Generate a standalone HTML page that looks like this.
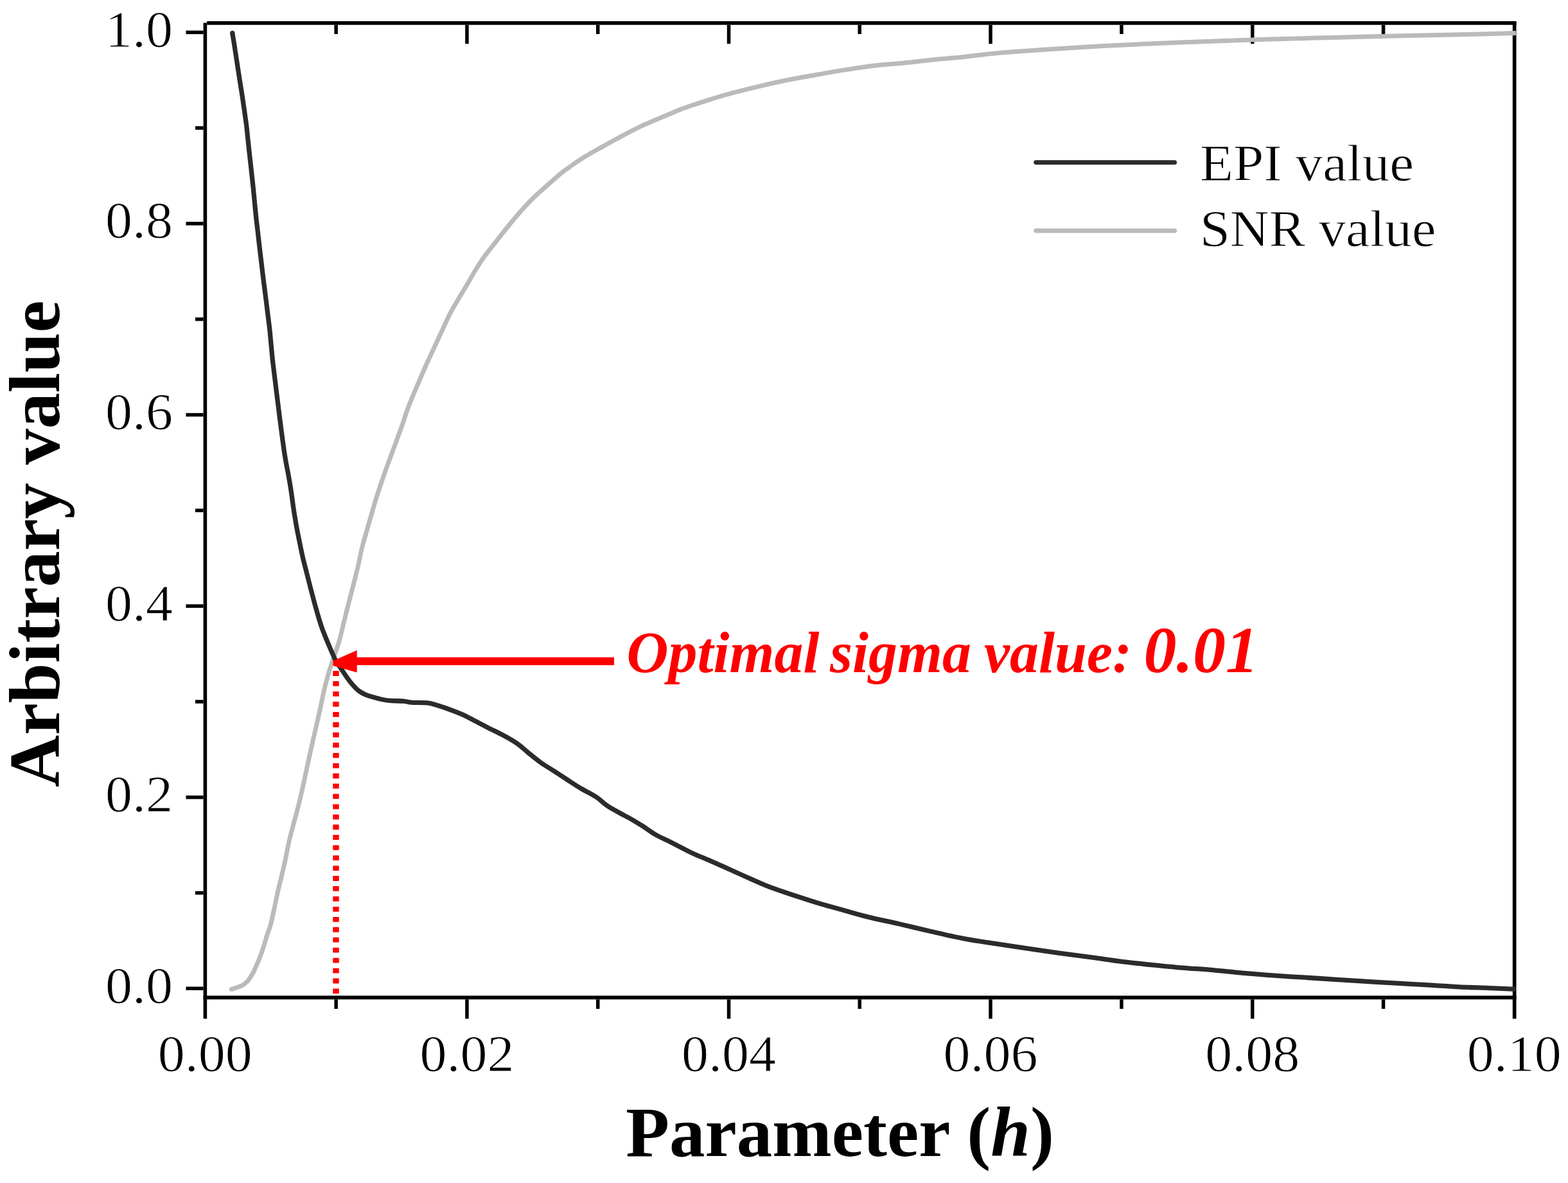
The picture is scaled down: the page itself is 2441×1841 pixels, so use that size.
<!DOCTYPE html><html><head><meta charset="utf-8"><title>EPI and SNR value versus parameter h</title><style>
html,body{margin:0;padding:0;background:#fff;width:2441px;height:1841px;overflow:hidden}
svg{display:block}
text{font-family:"Liberation Serif","Times New Roman",Times,serif}
.thin{stroke:#fff;stroke-width:0.9px;paint-order:fill}
</style></head><body>
<svg width="2441" height="1841" viewBox="0 0 2441 1841">
<rect width="2441" height="1841" fill="#fff"/>
<g fill="#000"><rect x="316.6" y="35.5" width="5.6" height="1549.9"/><rect x="322.2" y="33.0" width="2038.3" height="5.7"/><rect x="2354.8" y="33.0" width="5.7" height="1552.4"/><rect x="316.6" y="1549.5" width="2043.9" height="5.8"/><rect x="289.5" y="1535.5" width="27.1" height="5.5"/><rect x="304.0" y="1386.8" width="12.6" height="5.5"/><rect x="289.5" y="1238.0" width="27.1" height="5.5"/><rect x="304.0" y="1089.2" width="12.6" height="5.5"/><rect x="289.5" y="940.4" width="27.1" height="5.5"/><rect x="304.0" y="791.6" width="12.6" height="5.5"/><rect x="289.5" y="642.8" width="27.1" height="5.5"/><rect x="304.0" y="494.0" width="12.6" height="5.5"/><rect x="289.5" y="345.2" width="27.1" height="5.5"/><rect x="304.0" y="196.4" width="12.6" height="5.5"/><rect x="289.5" y="47.6" width="27.1" height="5.5"/><rect x="520.4" y="1555.3" width="5.5" height="14.7"/><rect x="520.4" y="38.7" width="5.5" height="14.3"/><rect x="724.2" y="1555.3" width="5.5" height="30.1"/><rect x="724.2" y="38.7" width="5.5" height="29.5"/><rect x="928.0" y="1555.3" width="5.5" height="14.7"/><rect x="928.0" y="38.7" width="5.5" height="14.3"/><rect x="1131.8" y="1555.3" width="5.5" height="30.1"/><rect x="1131.8" y="38.7" width="5.5" height="29.5"/><rect x="1335.5" y="1555.3" width="5.5" height="14.7"/><rect x="1335.5" y="38.7" width="5.5" height="14.3"/><rect x="1539.3" y="1555.3" width="5.5" height="30.1"/><rect x="1539.3" y="38.7" width="5.5" height="29.5"/><rect x="1743.2" y="1555.3" width="5.5" height="14.7"/><rect x="1743.2" y="38.7" width="5.5" height="14.3"/><rect x="1947.0" y="1555.3" width="5.5" height="30.1"/><rect x="1947.0" y="38.7" width="5.5" height="29.5"/><rect x="2150.8" y="1555.3" width="5.5" height="14.7"/><rect x="2150.8" y="38.7" width="5.5" height="14.3"/></g>
<line x1="523" y1="1044.1" x2="523" y2="1548" stroke="#ff0000" stroke-width="9.4" stroke-dasharray="7.8 8.15"/>
<path d="M360.3,1539.5C361.8,1539.0 366.7,1537.6 369.6,1536.5C372.5,1535.4 375.2,1534.6 377.8,1533.0C380.4,1531.5 383.1,1529.4 385.2,1527.3C387.3,1525.1 388.6,1522.6 390.2,1520.1C391.8,1517.5 393.2,1515.5 394.9,1512.1C396.6,1508.7 398.6,1504.2 400.5,1499.7C402.5,1495.1 404.6,1489.8 406.4,1484.8C408.3,1479.9 409.9,1474.8 411.4,1469.8C413.0,1464.8 414.2,1460.2 415.9,1454.9C417.6,1449.6 419.7,1445.1 421.6,1437.9C423.5,1430.7 425.5,1420.2 427.4,1411.8C429.2,1403.3 430.8,1395.2 432.6,1387.0C434.5,1378.8 436.6,1370.9 438.5,1362.8C440.4,1354.6 442.5,1345.9 444.2,1338.0C445.9,1330.2 447.0,1322.8 448.6,1315.7C450.1,1308.6 451.8,1301.9 453.4,1295.5C455.1,1289.0 456.8,1283.0 458.5,1276.7C460.2,1270.5 461.8,1264.5 463.5,1258.0C465.2,1251.5 466.8,1244.8 468.5,1237.6C470.2,1230.4 471.9,1222.4 473.6,1214.6C475.3,1206.8 476.9,1198.9 478.6,1191.1C480.3,1183.3 482.0,1175.4 483.7,1167.9C485.4,1160.3 487.0,1153.1 488.7,1145.8C490.4,1138.5 492.0,1131.4 493.7,1124.0C495.4,1116.6 497.1,1109.3 498.8,1101.6C500.5,1093.9 502.1,1085.0 503.8,1077.7C505.5,1070.3 507.1,1063.6 508.8,1057.3C510.5,1051.0 512.1,1045.8 514.0,1039.8C515.9,1033.8 517.8,1028.1 520.1,1021.4C522.3,1014.7 525.3,1007.3 527.5,999.5C529.8,991.8 531.7,983.2 533.7,975.0C535.8,966.8 537.8,958.4 539.8,950.1C541.9,941.9 544.0,933.9 546.1,925.7C548.2,917.5 550.5,908.6 552.5,900.8C554.5,893.1 556.1,886.7 557.8,879.2C559.5,871.7 560.7,864.3 562.7,856.0C564.7,847.8 567.4,838.6 569.9,829.7C572.4,820.8 575.0,811.8 577.6,802.8C580.2,793.8 582.7,784.9 585.6,775.7C588.5,766.5 591.8,756.5 594.9,747.4C598.0,738.3 601.3,729.0 604.2,721.1C607.1,713.2 609.5,706.8 612.1,700.0C614.6,693.2 617.0,686.7 619.4,680.0C621.9,673.3 624.4,666.6 626.7,660.0C629.0,653.4 630.9,646.8 633.2,640.2C635.6,633.7 637.9,627.8 640.7,620.8C643.6,613.7 647.1,605.7 650.4,598.0C653.7,590.3 657.1,582.3 660.4,574.7C663.8,567.2 667.1,559.9 670.5,552.6C673.9,545.3 677.2,538.1 680.6,530.8C684.0,523.5 687.3,516.2 690.7,509.0C694.1,501.8 697.2,494.6 701.0,487.4C704.7,480.3 708.7,473.7 713.2,466.0C717.7,458.2 723.7,448.7 728.2,441.0C732.7,433.4 736.2,426.8 740.4,420.0C744.6,413.2 748.5,406.9 753.5,400.0C758.4,393.1 763.8,386.6 770.1,378.5C776.5,370.4 784.9,359.6 791.5,351.5C798.1,343.4 803.8,336.7 809.6,330.0C815.5,323.3 821.8,316.5 826.7,311.5C831.5,306.5 834.8,303.6 838.8,300.0C842.7,296.4 846.2,293.5 850.3,289.8C854.5,286.2 859.1,281.9 863.6,278.1C868.0,274.3 872.6,270.3 877.1,266.8C881.6,263.3 886.2,260.2 890.7,257.0C895.2,253.8 899.7,250.6 904.2,247.7C908.7,244.8 913.3,242.1 917.8,239.4C922.3,236.8 926.9,234.4 931.4,231.9C935.9,229.4 940.4,226.9 944.9,224.4C949.4,221.9 953.6,219.6 958.5,217.0C963.4,214.3 967.5,212.0 974.3,208.4C981.1,204.9 991.4,199.6 999.1,195.9C1006.9,192.2 1013.7,189.5 1020.7,186.5C1027.7,183.5 1034.2,180.9 1041.0,178.0C1047.8,175.2 1054.6,172.2 1061.4,169.6C1068.2,167.0 1074.9,164.8 1081.7,162.5C1088.5,160.2 1095.5,158.0 1102.1,155.9C1108.7,153.8 1114.9,151.9 1121.3,150.0C1127.7,148.1 1130.5,147.2 1140.4,144.6C1150.3,142.0 1166.5,137.9 1180.8,134.6C1195.1,131.2 1210.9,127.6 1226.0,124.5C1241.1,121.5 1256.1,119.0 1271.2,116.3C1286.3,113.6 1301.4,110.9 1316.5,108.6C1331.6,106.2 1346.6,103.9 1361.7,102.1C1376.8,100.4 1391.8,99.5 1406.9,97.9C1422.0,96.4 1437.2,94.5 1452.5,92.9C1467.8,91.4 1483.2,90.4 1498.9,88.8C1514.5,87.2 1526.1,85.0 1546.4,83.2C1566.7,81.3 1595.0,79.3 1620.8,77.5C1646.6,75.7 1674.0,74.0 1701.3,72.4C1728.6,70.8 1755.1,69.5 1784.8,68.2C1814.5,66.9 1848.7,65.5 1879.4,64.4C1910.0,63.2 1934.8,62.4 1968.8,61.3C2002.9,60.3 2044.8,59.2 2083.5,58.2C2122.2,57.2 2165.4,56.0 2201.2,55.2C2236.9,54.3 2271.5,53.9 2298.0,53.3C2324.5,52.7 2349.7,51.8 2360.0,51.5" fill="none" stroke="#bababa" stroke-width="7" stroke-linejoin="round" stroke-linecap="butt"/>
<path d="M361.8,51.5C362.3,54.8 363.9,64.6 365.0,71.3C366.0,78.0 367.1,84.7 368.1,91.5C369.1,98.2 370.2,105.0 371.2,111.7C372.2,118.4 373.3,125.2 374.3,131.8C375.3,138.3 376.4,144.4 377.4,151.2C378.4,158.0 379.5,165.3 380.5,172.6C381.5,179.8 382.6,187.0 383.6,194.6C384.5,202.3 385.2,210.0 386.1,218.5C387.0,227.0 388.1,236.8 389.1,245.8C390.1,254.9 391.2,264.3 392.1,272.8C393.0,281.4 393.8,287.8 394.7,297.4C395.7,307.0 396.8,320.3 397.9,330.5C398.9,340.8 400.0,349.6 401.1,358.8C402.1,368.1 403.2,377.4 404.2,386.2C405.2,395.1 406.3,403.3 407.3,411.8C408.3,420.4 409.4,429.3 410.4,437.6C411.4,446.0 412.5,453.6 413.5,461.7C414.5,469.9 415.6,478.4 416.6,486.5C417.6,494.6 418.7,503.0 419.6,510.5C420.4,517.9 420.9,523.6 421.6,531.4C422.4,539.3 423.2,549.1 424.1,557.6C425.0,566.2 426.1,574.6 427.1,582.8C428.1,590.9 429.1,598.5 430.0,606.6C431.0,614.7 432.1,623.1 433.1,631.4C434.1,639.6 435.2,648.0 436.2,656.1C437.2,664.1 438.3,672.0 439.3,679.7C440.3,687.4 441.4,695.4 442.4,702.4C443.5,709.4 444.5,715.5 445.6,721.6C446.7,727.6 447.9,733.2 448.9,738.8C449.9,744.3 450.8,749.2 451.7,754.7C452.6,760.3 453.4,765.4 454.3,772.0C455.3,778.7 456.2,786.7 457.4,794.4C458.6,802.2 460.0,810.5 461.4,818.6C462.9,826.6 464.5,834.7 466.2,842.8C467.8,850.9 469.4,859.0 471.3,867.1C473.1,875.2 475.4,883.3 477.4,891.4C479.5,899.5 481.5,907.7 483.5,915.4C485.5,923.2 487.5,930.8 489.5,938.1C491.5,945.3 493.5,952.4 495.4,958.9C497.4,965.4 499.1,971.3 501.1,977.0C503.1,982.7 505.4,988.1 507.4,993.1C509.5,998.2 511.5,1003.1 513.4,1007.4C515.2,1011.8 516.8,1015.5 518.5,1019.2C520.2,1022.9 521.7,1026.3 523.6,1029.5C525.4,1032.7 527.1,1034.8 529.6,1038.5C532.1,1042.3 535.4,1047.4 538.5,1051.8C541.6,1056.1 544.8,1060.8 548.3,1064.8C551.7,1068.7 555.6,1072.8 559.1,1075.5C562.6,1078.2 565.6,1079.5 569.3,1081.1C573.0,1082.7 577.3,1083.8 581.5,1085.0C585.7,1086.2 590.4,1087.6 594.7,1088.5C599.0,1089.4 601.9,1090.0 607.5,1090.4C613.0,1090.8 622.7,1090.7 628.1,1091.1C633.5,1091.6 633.6,1092.6 639.9,1093.1C646.1,1093.5 658.9,1093.3 665.4,1093.9C671.8,1094.6 673.0,1095.4 678.7,1097.1C684.4,1098.8 692.5,1101.5 699.5,1104.0C706.4,1106.5 713.4,1109.1 720.3,1112.2C727.2,1115.3 733.9,1119.1 740.7,1122.6C747.5,1126.1 754.1,1129.7 761.0,1133.2C767.9,1136.7 774.7,1139.6 782.0,1143.5C789.3,1147.4 797.8,1152.0 804.6,1156.7C811.4,1161.4 816.4,1166.5 822.7,1171.6C829.0,1176.7 835.7,1182.3 842.4,1187.1C849.1,1191.8 856.0,1195.7 862.8,1200.1C869.6,1204.5 876.2,1208.9 883.1,1213.4C890.0,1217.9 896.9,1222.5 904.4,1227.0C912.0,1231.5 921.8,1236.1 928.5,1240.5C935.3,1245.0 939.1,1249.6 945.1,1253.7C951.1,1257.8 958.0,1261.3 964.5,1265.0C971.0,1268.6 978.0,1272.1 984.0,1275.6C990.0,1279.0 994.5,1281.8 1000.6,1285.7C1006.6,1289.6 1012.5,1294.3 1020.4,1298.8C1028.3,1303.2 1038.5,1307.7 1047.9,1312.4C1057.3,1317.2 1067.2,1322.7 1076.8,1327.2C1086.4,1331.8 1096.1,1335.4 1105.7,1339.6C1115.4,1343.8 1125.0,1348.2 1134.7,1352.5C1144.3,1356.8 1154.0,1361.2 1163.6,1365.5C1173.2,1369.8 1182.9,1374.2 1192.5,1378.1C1202.2,1381.9 1211.8,1385.2 1221.5,1388.5C1231.1,1391.8 1241.0,1395.0 1250.4,1398.0C1259.8,1401.0 1269.1,1404.1 1278.1,1406.7C1287.1,1409.4 1292.4,1410.6 1304.3,1413.9C1316.3,1417.2 1333.9,1422.7 1349.7,1426.6C1365.6,1430.6 1382.9,1433.9 1399.5,1437.7C1416.1,1441.5 1432.6,1445.7 1449.2,1449.5C1465.8,1453.3 1482.3,1457.2 1498.9,1460.3C1515.5,1463.5 1532.0,1465.8 1548.6,1468.4C1565.2,1471.0 1581.8,1473.4 1598.4,1475.8C1615.0,1478.3 1631.5,1480.8 1648.1,1483.1C1664.7,1485.4 1681.2,1487.4 1697.8,1489.7C1714.4,1491.9 1731.2,1494.6 1747.6,1496.6C1764.0,1498.6 1780.7,1500.3 1796.2,1501.8C1811.8,1503.4 1825.5,1504.9 1840.8,1506.1C1856.1,1507.4 1872.1,1508.2 1887.9,1509.6C1903.7,1511.0 1919.8,1513.0 1935.8,1514.4C1951.8,1515.8 1967.8,1517.1 1983.8,1518.2C1999.8,1519.3 2015.7,1520.2 2031.7,1521.2C2047.7,1522.2 2063.6,1523.3 2079.6,1524.3C2095.6,1525.3 2111.5,1526.4 2127.5,1527.4C2143.5,1528.4 2159.4,1529.3 2175.4,1530.2C2191.4,1531.1 2207.4,1531.9 2223.4,1532.9C2239.4,1533.8 2255.5,1535.2 2271.3,1535.9C2287.1,1536.7 2303.4,1537.0 2318.1,1537.6C2332.8,1538.2 2352.6,1539.1 2359.5,1539.4" fill="none" stroke="#2b2b2b" stroke-width="7.3" stroke-linejoin="round" stroke-linecap="butt"/>
<circle cx="361.8" cy="51.5" r="3.65" fill="#2b2b2b"/>
<circle cx="360.3" cy="1539.5" r="3.5" fill="#bababa"/>
<rect x="555" y="1022.9" width="401" height="12.2" fill="#ff0000"/>
<polygon points="518.4,1028.4 555.7,1011.9 555.7,1046.4 518.4,1036" fill="#ff0000"/>
<text x="269" y="1560.8" class="thin" font-size="80" text-anchor="end" transform="translate(269,0) scale(1.05,1) translate(-269,0)">0.0</text>
<text x="269" y="1263.2" class="thin" font-size="80" text-anchor="end" transform="translate(269,0) scale(1.05,1) translate(-269,0)">0.2</text>
<text x="269" y="965.6" class="thin" font-size="80" text-anchor="end" transform="translate(269,0) scale(1.05,1) translate(-269,0)">0.4</text>
<text x="269" y="668.1" class="thin" font-size="80" text-anchor="end" transform="translate(269,0) scale(1.05,1) translate(-269,0)">0.6</text>
<text x="269" y="370.5" class="thin" font-size="80" text-anchor="end" transform="translate(269,0) scale(1.05,1) translate(-269,0)">0.8</text>
<text x="269" y="72.9" class="thin" font-size="80" text-anchor="end" transform="translate(269,0) scale(1.05,1) translate(-269,0)">1.0</text>
<text x="319.3" y="1667" class="thin" font-size="80" text-anchor="middle" transform="translate(319.3,0) scale(1.05,1) translate(-319.3,0)">0.00</text>
<text x="726.9" y="1667" class="thin" font-size="80" text-anchor="middle" transform="translate(726.9,0) scale(1.05,1) translate(-726.9,0)">0.02</text>
<text x="1134.5" y="1667" class="thin" font-size="80" text-anchor="middle" transform="translate(1134.5,0) scale(1.05,1) translate(-1134.5,0)">0.04</text>
<text x="1542.1" y="1667" class="thin" font-size="80" text-anchor="middle" transform="translate(1542.1,0) scale(1.05,1) translate(-1542.1,0)">0.06</text>
<text x="1949.7" y="1667" class="thin" font-size="80" text-anchor="middle" transform="translate(1949.7,0) scale(1.05,1) translate(-1949.7,0)">0.08</text>
<text x="2357.3" y="1667" class="thin" font-size="80" text-anchor="middle" transform="translate(2357.3,0) scale(1.05,1) translate(-2357.3,0)">0.10</text>
<text transform="translate(91.5,846.4) rotate(-90) scale(1.002,1)" font-size="112" font-weight="bold" text-anchor="middle">Arbitrary value</text>
<text x="1307.5" y="1799" font-size="111" font-weight="bold" text-anchor="middle">Parameter (<tspan font-style="italic">h</tspan>)</text>
<line x1="1612.7" y1="252.7" x2="1828.6" y2="252.7" stroke="#2b2b2b" stroke-width="7" stroke-linecap="round"/>
<line x1="1612.7" y1="359" x2="1828.6" y2="359" stroke="#bababa" stroke-width="7" stroke-linecap="round"/>
<text class="thin" x="1868" y="281.5" font-size="81" transform="translate(1868,0) scale(1.05,1) translate(-1868,0)">EPI value</text>
<text class="thin" x="1868" y="383.5" font-size="81" transform="translate(1868,0) scale(1.04,1) translate(-1868,0)">SNR value</text>
<g fill="#ff0000" font-weight="bold" font-style="italic">
<text x="975.5" y="1046.3" font-size="90">Optimal</text>
<text x="1292" y="1046.3" font-size="90">sigma</text>
<text x="1532" y="1046.3" font-size="90">value:</text>
<text x="1780.5" y="1046.3" font-size="102">0.01</text>
</g>
</svg></body></html>
